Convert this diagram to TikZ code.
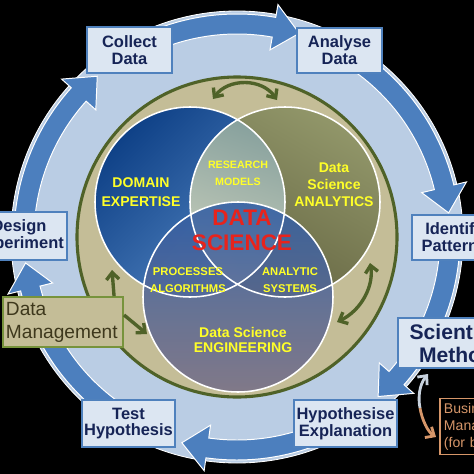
\documentclass[tikz,border=0pt]{standalone}
\usepackage{fontspec}
\setmainfont{Liberation Sans}
\usetikzlibrary{arrows.meta}

\definecolor{ringblue}{RGB}{186,205,228}
\definecolor{bandblue}{RGB}{76,127,190}
\definecolor{boxfill}{RGB}{220,230,242}
\definecolor{boxline}{RGB}{79,129,189}
\definecolor{boxtext}{RGB}{22,36,86}
\definecolor{khaki}{RGB}{196,189,151}
\definecolor{olive}{RGB}{79,98,40}
\definecolor{dmline}{RGB}{119,147,60}
\definecolor{dmtext}{RGB}{62,56,28}
\definecolor{dsyellow}{RGB}{255,255,40}
\definecolor{dsred}{RGB}{232,35,28}
\definecolor{biztan}{RGB}{214,150,105}
\definecolor{sbgrey}{RGB}{200,210,222}
\definecolor{domA}{RGB}{15,65,135}
\definecolor{domB}{RGB}{85,135,195}
\definecolor{anaA}{RGB}{145,150,105}
\definecolor{anaB}{RGB}{100,100,65}
\definecolor{resA}{RGB}{120,150,150}
\definecolor{resB}{RGB}{205,210,190}
\definecolor{engA}{RGB}{50,95,165}
\definecolor{engB}{RGB}{120,112,135}

\tikzset{
  stepbox/.style={draw=boxline, fill=boxfill, line width=1.3pt, text=boxtext, align=center,
    inner sep=0pt, font=\bfseries\fontsize{11.7}{12}\selectfont},
  venntext/.style={text=dsyellow, align=center, font=\bfseries\fontsize{10}{13.5}\selectfont},
  greenarrow/.style={olive, line width=2.4pt},
  dmbox/.style={draw=dmline, fill=khaki, line width=1.5pt, text=dmtext, align=left,
    font=\fontsize{13.6}{16.4}\selectfont, text width=2.85cm, inner xsep=0.075cm, minimum height=1.15cm},
  bizbox/.style={draw=biztan, fill=black, line width=1pt, text=biztan, align=left,
    font=\fontsize{10}{12}\selectfont, text width=2.3cm, inner xsep=0.1cm, minimum height=1.325cm}
}

% one blue block arrow of the cycle: start angle, tip angle
\newcommand\bandarrow[2]{%
  \pgfmathsetmacro\headang{#2+7}%
  \fill[bandblue, draw=white, line width=0.7pt]
    (#1:223) arc[start angle=#1, end angle=\headang, radius=223]
    -- (\headang:236) -- (#2:213) -- (\headang:190)
    -- (\headang:203) arc[start angle=\headang, end angle=#1, radius=203] -- cycle;}

\begin{document}
\begin{tikzpicture}[x=0.025cm, y=-0.025cm, >={Straight Barb[length=5pt,width=9pt]}]

  \fill[black] (0,0) rectangle (474,474);
  \useasboundingbox (0,0) rectangle (474,474);
  \clip (0,0) rectangle (474,474);

  \fill[ringblue, draw=white, line width=0.6pt] (237,237) circle[radius=226];

  \begin{scope}[shift={(237,237)}, yscale=-1]
    \bandarrow{118}{73}
    \bandarrow{62}{6.5}
    \bandarrow{0}{-48.5}
    \bandarrow{-62}{-105}
    \bandarrow{-120}{-173}
    \bandarrow{180}{131}
  \end{scope}

  \fill[khaki, draw=olive, line width=2.2pt] (237,237) circle[radius=160];

  % the three circles
  \shade[top color=domA, bottom color=domB, shading angle=45] (190,202) circle[radius=95];
  \shade[top color=anaA, bottom color=anaB, shading angle=-30] (285,202) circle[radius=95];
  \begin{scope}
    \clip (190,202) circle[radius=95];
    \shade[top color=resA, bottom color=resB, shading angle=-20] (285,202) circle[radius=95];
  \end{scope}
  \shade[top color=engA, bottom color=engB, fill opacity=0.88] (238,297) circle[radius=95];
  \draw[white, line width=1.1pt] (190,202) circle[radius=95] (285,202) circle[radius=95]
    (238,297) circle[radius=95];

  \coordinate (gtl) at (213,99);
  \coordinate (gtr) at (277,100);
  \draw[greenarrow, <->] (gtl) .. controls (228,78) and (262,78) .. (gtr);
  \coordinate (grt) at (370,263);
  \coordinate (grb) at (337,322);
  \draw[greenarrow, <->] (grt) .. controls (374,285) and (362,310) .. (grb);

  \node[venntext] (dom) at (141,192) {DOMAIN\\EXPERTISE};
  \node[venntext, font=\bfseries\fontsize{7.6}{12}\selectfont] (res) at (238,173) {RESEARCH\\MODELS};
  \node[venntext, font=\bfseries\fontsize{10}{12}\selectfont] (ana) at (334,185) {Data\\Science\\ANALYTICS};
  \node[text=dsred, align=center, font=\bfseries\fontsize{16}{17.8}\selectfont] (ds) at (242,230) {DATA\\SCIENCE};
  \node[venntext, font=\bfseries\fontsize{8}{11.8}\selectfont] (proc) at (188,280) {PROCESSES\\ALGORITHMS};
  \node[venntext, font=\bfseries\fontsize{8}{11.8}\selectfont] (asys) at (290,280) {ANALYTIC\\SYSTEMS};
  \node[venntext, font=\bfseries\fontsize{10}{10.7}\selectfont] (eng) at (243,340) {Data Science\\ENGINEERING};

  % steps of the cycle
  \node[stepbox, minimum width=2.125cm, minimum height=1.15cm] (collect) at (129.5,50) {Collect\\Data};
  \node[stepbox, minimum width=2.125cm, minimum height=1.125cm] (analyse) at (339.5,50.5) {Analyse\\Data};
  \node[stepbox, minimum width=2.125cm, minimum height=1.125cm] (identify) at (454.5,237.5) {Identify\\Patterns};
  \node[stepbox, minimum width=2.4cm, minimum height=1.2cm] (design) at (19,236) {Design\\Experiment};
  \node[stepbox, minimum width=2.325cm, minimum height=1.175cm] (test) at (128.5,423.5) {Test\\Hypothesis};
  \node[stepbox, minimum width=2.575cm, minimum height=1.175cm] (hypo) at (345.5,423.5) {Hypothesise\\Explanation};
  \node[stepbox, font=\bfseries\fontsize{15}{16.4}\selectfont, minimum width=2.925cm, minimum height=1.25cm]
    (sm) at (456.5,343) {Scientific\\Method};

  \node[dmbox] (dm) at (63,322) {Data\\Management};
  \coordinate (dmup) at (112,270);
  \coordinate (dmin) at (147,334);
  \draw[greenarrow, ->] (dm.north east) ++(-10,0) -- (dmup);
  \draw[greenarrow, ->] (dm.east) ++(0,-7) -- (dmin);

  \node[bizbox] (bm) at (490,426.5) {Business\\Management\\(for business)};
  \coordinate (smb) at (428,374);
  \coordinate (sbmid) at (420,408);
  \coordinate (bmw) at (436,437);
  \draw[sbgrey, line width=2pt, <-] (smb) .. controls (419,385) and (418,398) .. (sbmid);
  \draw[biztan, line width=2pt, ->] (sbmid) .. controls (422,420) and (428,432) .. (bmw);

\end{tikzpicture}
\end{document}
